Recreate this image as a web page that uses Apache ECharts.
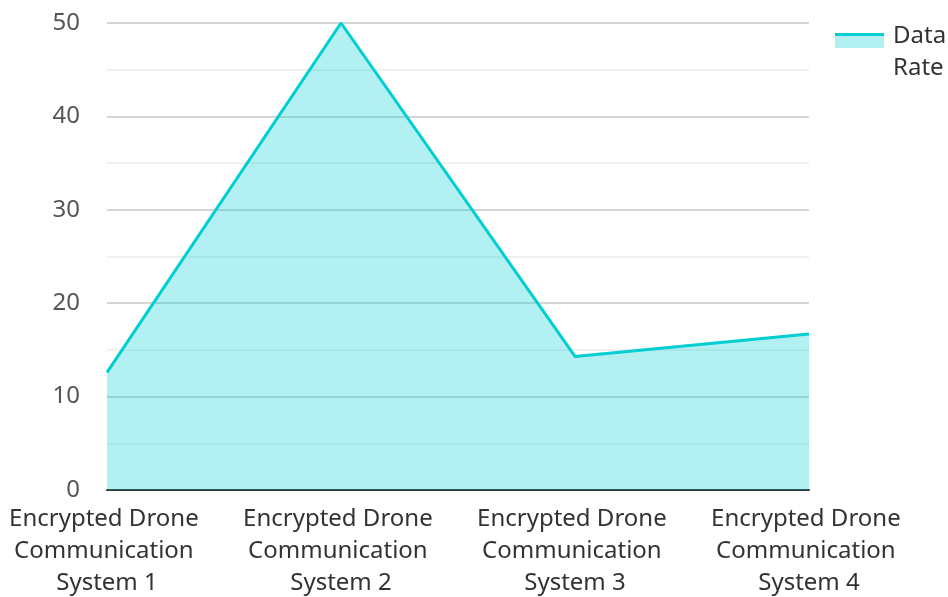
<!DOCTYPE html>
<html>
<head>
<meta charset="utf-8">
<script src="https://cdn.jsdelivr.net/npm/echarts@6/dist/echarts.min.js"></script>
<style>html,body{margin:0;padding:0;background:#fff}#c{width:948px;height:597px}</style>
</head>
<body>
<div id="c"></div>
<script>
const categories = ['Encrypted Drone Communication System 1','Encrypted Drone Communication System 2','Encrypted Drone Communication System 3','Encrypted Drone Communication System 4'];
const seriesName = 'Data Rate';
const dataRate = [12.6, 50, 14.3, 16.7];
const lineColor = '#00CED1';
const fillColor = 'rgba(0,206,209,0.3)';
const FONT = 'Noto Sans';

const chart = echarts.init(document.getElementById('c'));
chart.setOption({
  animation: false,
  textStyle: { fontFamily: FONT },
  grid: { left: 107, right: 139, top: 23, bottom: 107, containLabel: false, outerBoundsMode: 'none' },
  legend: {
    left: 835, top: 20, padding: 0, orient: 'vertical',
    itemWidth: 49, itemHeight: 64, itemGap: 10,
    icon: 'rect',
    itemStyle: {
      color: new echarts.graphic.LinearGradient(0, 0, 0, 1, [
        { offset: 0, color: 'rgba(255,255,255,0)' }, { offset: 0.203, color: 'rgba(255,255,255,0)' },
        { offset: 0.203, color: lineColor }, { offset: 0.25, color: lineColor },
        { offset: 0.25, color: '#B2EFF0' }, { offset: 0.4375, color: '#B2EFF0' },
        { offset: 0.4375, color: 'rgba(255,255,255,0)' }, { offset: 1, color: 'rgba(255,255,255,0)' }
      ]),
      borderWidth: 0
    },
    lineStyle: { width: 0 },
    textStyle: { fontSize: 24, color: '#333', width: 62, overflow: 'break', lineHeight: 32, fontFamily: FONT, padding: [0, 0, 0, 4] },
    data: [seriesName]
  },
  xAxis: {
    type: 'category', data: categories, boundaryGap: false,
    axisLine: { show: true, lineStyle: { color: '#333', width: 2 } },
    axisTick: { show: false },
    axisLabel: { fontSize: 24, color: '#333', width: 225, overflow: 'break', lineHeight: 32, margin: 13, interval: 0, fontFamily: FONT },
    splitLine: { show: false }
  },
  yAxis: {
    type: 'value', min: 0, max: 50, interval: 10,
    axisLine: { show: false }, axisTick: { show: false },
    axisLabel: { fontSize: 24, color: '#555', margin: 27, fontFamily: FONT },
    splitLine: { show: true, lineStyle: { color: '#c8c8c8', width: 1.5 } },
    minorTick: { show: false, splitNumber: 2 },
    minorSplitLine: { show: true, lineStyle: { color: '#ebebeb', width: 1.5 } }
  },
  series: [{
    name: seriesName, type: 'line', data: dataRate,
    showSymbol: false, symbol: 'none',
    lineStyle: { color: lineColor, width: 3 },
    itemStyle: { color: lineColor },
    areaStyle: { color: fillColor, opacity: 1 }
  }]
});
</script>
</body>
</html>
